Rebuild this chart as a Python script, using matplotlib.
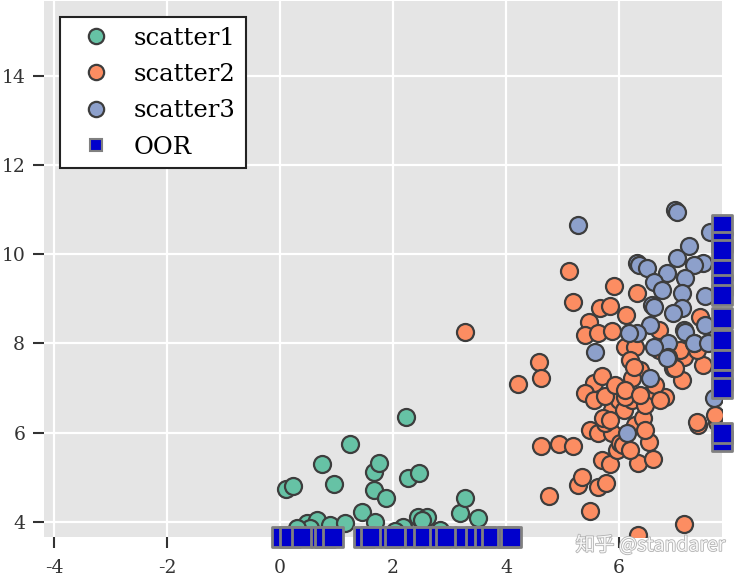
import matplotlib
matplotlib.use("Agg")
import matplotlib.pyplot as plt
from matplotlib.lines import Line2D
import matplotlib.patheffects as pe

# ---------------- data ----------------
s1_x = [0.11, 0.23, 0.74, 0.96, 1.24, 1.66, 1.75, 1.66, 1.88, 1.45, 1.68, 2.23, 2.27, 2.46,
        2.44, 2.60, 2.51, 3.19, 3.27, 3.50, 0.48, 0.65, 0.88, 1.15, 0.53, 2.18, 0.30, 2.83, 2.04]
s1_y = [4.73, 4.80, 5.29, 4.85, 5.74, 5.11, 5.32, 4.71, 4.53, 4.22, 3.99, 6.35, 4.98, 5.09,
        4.11, 4.11, 4.04, 4.20, 4.53, 4.08, 3.97, 4.04, 3.93, 3.97, 3.86, 3.88, 3.86, 3.81, 3.79]

s2_x = [3.27, 4.21, 4.58, 4.62, 4.61, 4.94, 5.18, 4.76, 5.49, 5.28, 5.34, 5.63, 5.77, 5.69,
        5.84, 5.49, 5.63, 5.87, 5.75, 5.96, 6.02, 6.28, 6.52, 6.34, 6.60, 6.07, 7.40, 7.15,
        6.34, 7.73, 7.73, 5.19, 5.46, 5.40, 5.62, 5.87, 5.66, 5.83, 6.12, 5.55, 5.69, 5.40,
        5.55, 5.87, 5.72, 5.99, 6.08, 5.12, 5.90, 6.31, 6.11, 6.28, 6.19, 6.37, 6.22, 6.70,
        7.43, 7.49, 7.11, 6.96, 7.14, 6.70, 7.08, 7.37, 6.99, 6.81, 6.22, 6.52, 6.11, 6.43,
        7.37, 7.70, 6.26, 5.75, 5.93, 6.11, 6.46, 6.64, 6.73, 6.37, 5.84, 6.46, 6.19]
s2_y = [8.25, 7.09, 7.58, 7.22, 5.69, 5.74, 5.69, 4.58, 4.25, 4.82, 5.01, 4.78, 4.86, 5.38,
        5.29, 6.06, 6.00, 6.00, 6.21, 5.61, 5.76, 6.17, 5.79, 5.32, 5.40, 5.72, 6.17, 3.96,
        3.70, 6.35, 6.24, 8.93, 8.48, 8.19, 8.24, 8.28, 8.78, 8.84, 8.63, 7.10, 7.27, 6.88,
        6.73, 6.50, 6.32, 6.73, 6.50, 9.61, 9.29, 9.12, 7.92, 7.92, 7.63, 7.40, 7.22, 8.30,
        8.60, 7.51, 7.18, 7.44, 7.70, 7.85, 7.85, 7.85, 7.44, 6.80, 6.73, 6.84, 6.80, 6.32,
        6.24, 6.39, 7.47, 6.83, 7.06, 6.95, 6.61, 7.06, 6.73, 6.84, 6.28, 6.06, 5.61]

s3_x = [5.28, 6.99, 7.02, 7.23, 7.02, 7.48, 7.32, 6.31, 6.35, 6.49, 6.84, 7.17, 6.61, 6.75,
        7.11, 7.52, 6.58, 7.11, 6.96, 6.55, 6.31, 7.14, 7.52, 6.87, 7.32, 6.61, 6.87, 6.55,
        5.58, 7.61, 6.61, 6.17, 7.17, 7.32, 7.58, 6.84, 6.14, 7.67]
s3_y = [10.65, 10.99, 10.95, 10.17, 9.91, 9.79, 9.76, 9.79, 9.76, 9.68, 9.57, 9.46, 9.38,
        9.19, 9.12, 9.05, 8.86, 8.78, 8.67, 8.41, 8.22, 8.30, 8.41, 8.00, 8.00, 7.92, 7.70,
        7.22, 7.81, 10.50, 8.82, 8.22, 8.26, 8.00, 8.00, 7.66, 6.00, 6.77]

# out-of-range points (clamped to the axes edges)
oor_bottom_x = [0.04, 0.18, 0.39, 0.73, 0.80, 0.94, 1.49, 1.60, 1.95, 2.03, 2.39, 2.54,
                2.83, 2.94, 3.27, 3.47, 3.63, 3.75, 4.04, 4.09]
oor_right_y = [10.65, 10.27, 10.09, 9.64, 9.30, 9.08, 8.56, 8.07, 7.62, 7.17, 6.99, 5.82, 6.00]

labels = ["scatter1", "scatter2", "scatter3", "OOR"]
colors = ["#66c2a5", "#fc8d62", "#8da0cb"]
xlim = (-4.18, 7.82)
ylim = (3.66, 15.67)
xticks = [-4, -2, 0, 2, 4, 6]
yticks = [4, 6, 8, 10, 12, 14]

# ---------------- style ----------------
plt.rcParams["font.family"] = ["DejaVu Serif"]
plt.rcParams["axes.unicode_minus"] = False

fig = plt.figure(figsize=(7.35, 5.79), dpi=100)
ax = fig.add_axes([44 / 735, 42 / 579, (722 - 44) / 735, (578 - 42) / 579])
ax.set_facecolor("#e5e5e5")
for sp in ax.spines.values():
    sp.set_visible(False)
ax.grid(True, color="white", linewidth=1.6)
ax.set_axisbelow(True)

edge = "#3d3d3d"
for xs, ys, c, lab in zip([s1_x, s2_x, s3_x], [s1_y, s2_y, s3_y], colors, labels[:3]):
    ax.scatter(xs, ys, s=150, c=c, edgecolors=edge, linewidths=1.6, label=lab, zorder=3)

ax.set_xlim(*xlim)
ax.set_ylim(*ylim)
ax.set_xticks(xticks)
ax.set_yticks(yticks)
ax.set_xticklabels([str(t) for t in xticks])
ax.set_yticklabels([str(t) for t in yticks])
ax.tick_params(direction="out", length=8, width=1.5, color="#333333",
               labelcolor="#333333", labelsize=13.5, pad=5.5)
ax.tick_params(axis="x", pad=8)

y0 = ax.get_ylim()[0]
x1 = ax.get_xlim()[1]
ax.scatter(oor_bottom_x, [y0] * len(oor_bottom_x), marker="s", s=190, c="#0000cc",
           edgecolors="#808080", linewidths=2, clip_on=False, zorder=6)
ax.scatter([x1] * len(oor_right_y), oor_right_y, marker="s", s=190, c="#0000cc",
           edgecolors="#808080", linewidths=2, clip_on=False, zorder=6)

handles = [Line2D([], [], ls="", marker="o", markersize=11, markerfacecolor=c,
                  markeredgecolor=edge, markeredgewidth=1.6) for c in colors]
handles.append(Line2D([], [], ls="", marker="s", markersize=8, markerfacecolor="#0000cc",
                      markeredgecolor="#808080", markeredgewidth=1.5))
leg = ax.legend(handles, labels, loc="upper left", fontsize=17.5, frameon=True,
                fancybox=False, framealpha=1, edgecolor="#222222", facecolor="white",
                labelspacing=0.55, handletextpad=0.45, borderaxespad=0.65,
                handlelength=2.2, borderpad=0.4)
leg.get_frame().set_linewidth(1.5)

fig.text(0.885, 0.058, "知乎 @standarer", ha="center", va="center", fontsize=14,
         family=["Noto Sans CJK SC", "DejaVu Sans"], color="white", alpha=0.9,
         path_effects=[pe.withStroke(linewidth=1.2, foreground="#aaaaaa")], zorder=10)

fig.savefig("out.png", dpi=100)
